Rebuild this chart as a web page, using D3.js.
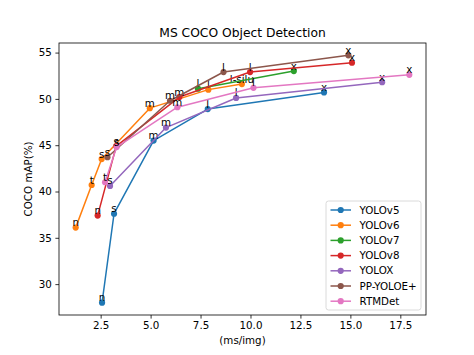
<!DOCTYPE html>
<html>
<head>
<meta charset="utf-8">
<script src="https://cdn.jsdelivr.net/npm/d3@7"></script>
<style>
  html, body { margin: 0; padding: 0; background: #fff; }
  svg { display: block; font-family: "DejaVu Sans", sans-serif; }
</style>
</head>
<body>
<svg id="chart" width="474" height="355"></svg>
<script>
// ---- data (latency ms/img, COCO mAP %) ----
const seriesNames = ["YOLOv5", "YOLOv6", "YOLOv7", "YOLOv8", "YOLOX", "PP-YOLOE+", "RTMDet"];
const seriesColors = ["#1f77b4", "#ff7f0e", "#2ca02c", "#d62728", "#9467bd", "#8c564b", "#e377c2"];

const yolov5Lat = [2.57, 3.17, 5.15, 7.86, 13.68];
const yolov5Map = [28.0, 37.6, 45.5, 48.9, 50.7];
const yolov5Labels = ["n", "s", "m", "l", "x"];

const yolov6Lat = [1.25, 2.05, 2.55, 4.96, 7.89, 9.57];
const yolov6Map = [36.1, 40.7, 43.5, 49.0, 51.0, 51.6];
const yolov6Labels = ["n", "t", "s", "m", "l", "l-silu"];

const yolov7Lat = [7.37, 12.17];
const yolov7Map = [51.1, 53.0];
const yolov7Labels = ["l", "x"];

const yolov8Lat = [2.35, 3.28, 6.44, 9.98, 15.08];
const yolov8Map = [37.4, 44.9, 50.2, 52.9, 53.9];
const yolov8Labels = ["n", "s", "m", "l", "x"];

const yoloxLat = [2.97, 5.77, 9.28, 16.59];
const yoloxMap = [40.6, 46.9, 50.1, 51.8];
const yoloxLabels = ["s", "m", "l", "x"];

const ppyoloeLat = [2.84, 5.97, 8.65, 14.9];
const ppyoloeMap = [43.7, 49.8, 52.9, 54.7];
const ppyoloeLabels = ["s", "m", "l", "x"];

const rtmdetLat = [2.72, 3.3, 6.34, 10.15, 17.95];
const rtmdetMap = [41.0, 44.8, 49.1, 51.2, 52.6];
const rtmdetLabels = ["t", "s", "m", "l", "x"];

const xTicks = [2.5, 5.0, 7.5, 10.0, 12.5, 15.0, 17.5];
const yTicks = [30, 35, 40, 45, 50, 55];

const title = "MS COCO Object Detection";
const xLabel = "(ms/img)";
const yLabel = "COCO mAP(%)";

// ---- build series ----
const lats = [yolov5Lat, yolov6Lat, yolov7Lat, yolov8Lat, yoloxLat, ppyoloeLat, rtmdetLat];
const maps = [yolov5Map, yolov6Map, yolov7Map, yolov8Map, yoloxMap, ppyoloeMap, rtmdetMap];
const labs = [yolov5Labels, yolov6Labels, yolov7Labels, yolov8Labels, yoloxLabels, ppyoloeLabels, rtmdetLabels];
const series = seriesNames.map((name, i) => ({
  name, color: seriesColors[i],
  pts: lats[i].map((x, j) => ({ x, y: maps[i][j], label: labs[i][j] }))
}));

// ---- layout ----
const svg = d3.select("#chart");
const L = 59, T = 43, R = 426, B = 315;
const FS = 10.3;

const allX = lats.flat(), allY = maps.flat();
const [x0, x1] = d3.extent(allX), [y0, y1] = d3.extent(allY);
const px = (x1 - x0) * 0.05, py = (y1 - y0) * 0.05;
const x = d3.scaleLinear().domain([x0 - px, x1 + px]).range([L, R]);
const y = d3.scaleLinear().domain([y0 - py, y1 + py]).range([B, T]);

// axes
const xAxis = svg.append("g").attr("transform", `translate(0,${B})`)
  .call(d3.axisBottom(x).tickValues(xTicks).tickFormat(d3.format(".1f")).tickSize(3.6).tickPadding(3.5));
const yAxis = svg.append("g").attr("transform", `translate(${L},0)`)
  .call(d3.axisLeft(y).tickValues(yTicks).tickFormat(d3.format("d")).tickSize(3.6).tickPadding(3.5));
[xAxis, yAxis].forEach(g => {
  g.select(".domain").remove();
  g.selectAll("line").attr("stroke", "#000").attr("stroke-width", 0.8);
  g.selectAll("text").attr("font-size", FS).attr("fill", "#000").attr("font-family", "DejaVu Sans");
});

// series
const line = d3.line().x(d => x(d.x)).y(d => y(d.y));
series.forEach(s => {
  const g = svg.append("g");
  g.append("path").attr("d", line(s.pts)).attr("fill", "none")
    .attr("stroke", s.color).attr("stroke-width", 1.5).attr("stroke-linejoin", "round");
  g.selectAll("circle").data(s.pts).join("circle")
    .attr("cx", d => x(d.x)).attr("cy", d => y(d.y)).attr("r", 3.1).attr("fill", s.color);
  g.selectAll("text").data(s.pts).join("text")
    .attr("x", d => x(d.x)).attr("y", d => y(d.y) - 1.5)
    .attr("text-anchor", "middle").attr("font-size", FS).attr("fill", "#000")
    .text(d => d.label);
});

// frame
svg.append("rect").attr("x", L).attr("y", T).attr("width", R - L).attr("height", B - T)
  .attr("fill", "none").attr("stroke", "#000").attr("stroke-width", 0.8);

// title & labels
svg.append("text").attr("x", (L + R) / 2).attr("y", 36.5).attr("text-anchor", "middle")
  .attr("font-size", 12.3).attr("fill", "#000").text(title);
svg.append("text").attr("x", (L + R) / 2).attr("y", 344).attr("text-anchor", "middle")
  .attr("font-size", FS).attr("fill", "#000").text(xLabel);
svg.append("text").attr("transform", `translate(32,${(T + B) / 2}) rotate(-90)`)
  .attr("text-anchor", "middle").attr("font-size", FS).attr("fill", "#000").text(yLabel);

// legend
const lgR = 421, lgB = 310, lgL = 326, pitch = 15.2;
const lgT = lgB - (seriesNames.length * pitch + 2.6);
const lg = svg.append("g");
lg.append("rect").attr("x", lgL).attr("y", lgT).attr("width", lgR - lgL).attr("height", lgB - lgT)
  .attr("rx", 2.5).attr("fill", "#fff").attr("fill-opacity", 0.8)
  .attr("stroke", "#d0d0d0").attr("stroke-width", 0.8);
series.forEach((s, i) => {
  const cy = lgT + 9 + i * pitch;
  lg.append("line").attr("x1", 330.5).attr("x2", 351).attr("y1", cy).attr("y2", cy)
    .attr("stroke", s.color).attr("stroke-width", 1.5);
  lg.append("circle").attr("cx", 340.7).attr("cy", cy).attr("r", 3.1).attr("fill", s.color);
  lg.append("text").attr("x", 359.5).attr("y", cy).attr("dy", "0.35em")
    .attr("font-size", FS).attr("fill", "#000").text(s.name);
});
</script>
</body>
</html>
